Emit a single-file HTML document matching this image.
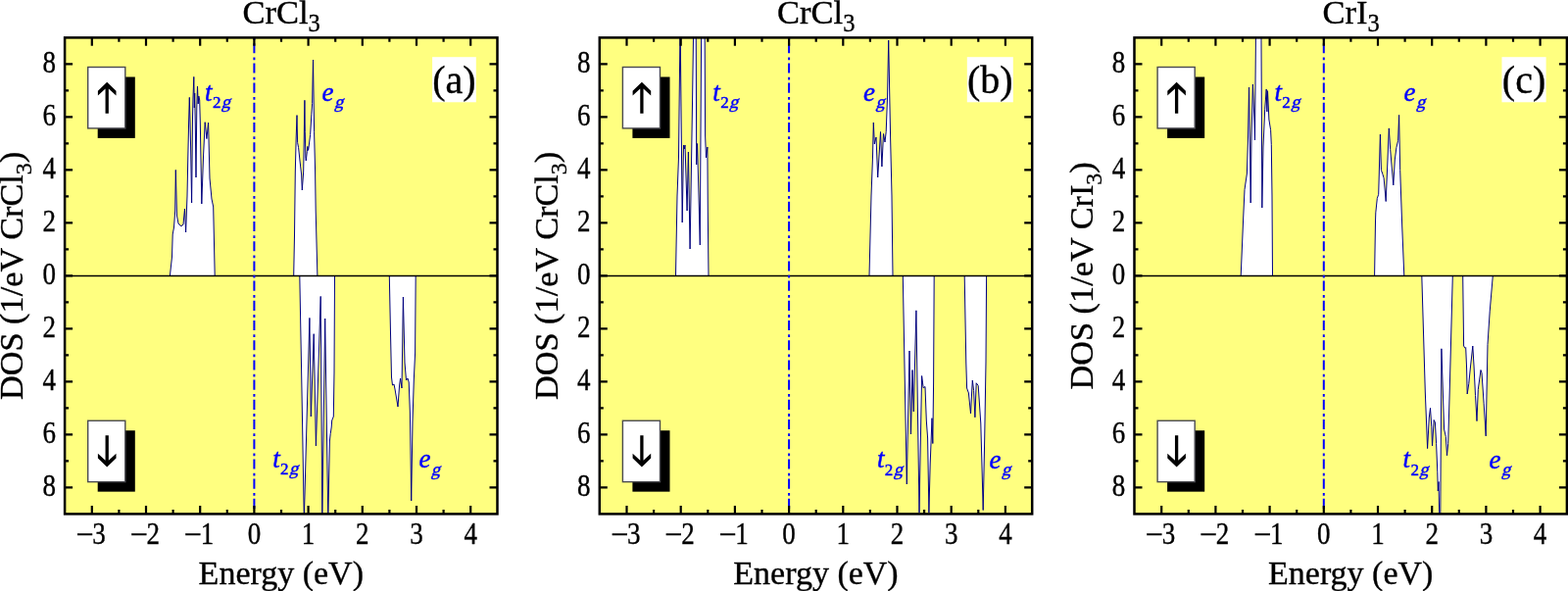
<!DOCTYPE html>
<html><head><meta charset="utf-8"><title>DOS of CrCl3 and CrI3</title>
<style>
html,body{margin:0;padding:0;background:#fff;}
body{width:1600px;height:603px;overflow:hidden;}
svg{display:block;}
text{font-family:"Liberation Serif","DejaVu Serif",serif;}
.k{stroke:#000;stroke-width:0.35px;}
</style></head><body>
<svg width="1600" height="603" viewBox="0 0 1600 603">

<defs><clipPath id="clip0"><rect x="66.1" y="38.4" width="441.4" height="486"/></clipPath></defs>
<g>
<rect x="66.1" y="38.4" width="441.4" height="486" fill="#ffff80"/>
<g clip-path="url(#clip0)">
<polygon points="173.4,281.4 175.5,262 176.2,239 177.5,232 178.7,215 179.3,173.4 180.5,220 182,228 185,231 187,229 188.5,213 189.6,237 191,200 191.8,160 192.6,125 193.3,99.4 194,125 194.6,150 195.6,207 196.5,120 197,100 197.8,78.4 198.3,110 198.7,95 199.3,128 200,181 200.8,110 201.5,88 202.2,106 202.8,98 203.7,102 204.3,125 205.8,208 207.5,160 209.2,124.7 210.9,141.6 212.6,125.2 214,182 216,203 217.7,211 219.2,281.4" fill="#fff"/>
<polygon points="299.7,281.4 300.5,240 301.3,175 302.2,140 303,117.6 303.6,145.4 304.6,150.7 306,164 307.6,178 308.3,194 309.7,175 310.9,102.3 311.3,134.8 311.9,161.3 312.3,164 313.3,154.7 313.9,149.4 314.6,153.4 315.3,148 316.6,137.5 317.9,116.2 318.6,105.6 319.5,61 320.6,134.8 321.6,175 322.2,215 323.9,281.4" fill="#fff"/>
<polygon points="305.8,281.4 308,400 310.3,530 313,430 315.9,324.4 317.3,425 320.2,340.7 322.4,455 327.2,302.4 328.8,530 331.7,325 334.8,530 336.4,450 337.2,442.7 338.2,436 338.7,429 340.3,425 341,380 341.5,281.4" fill="#fff"/>
<polygon points="397.3,281.4 398.5,340 399.5,385 400.5,393 402,392 403,397 404.2,404 406,415 407.6,393 408.6,386 410,396 411.4,303 413,370 414.5,388 416,386 417.2,390 418.4,422 419.7,511 421,430 422.3,388 423.6,360 424.2,281.4" fill="#fff"/>
<polyline points="173.4,281.4 175.5,262 176.2,239 177.5,232 178.7,215 179.3,173.4 180.5,220 182,228 185,231 187,229 188.5,213 189.6,237 191,200 191.8,160 192.6,125 193.3,99.4 194,125 194.6,150 195.6,207 196.5,120 197,100 197.8,78.4 198.3,110 198.7,95 199.3,128 200,181 200.8,110 201.5,88 202.2,106 202.8,98 203.7,102 204.3,125 205.8,208 207.5,160 209.2,124.7 210.9,141.6 212.6,125.2 214,182 216,203 217.7,211 219.2,281.4" fill="none" stroke="#000080" stroke-width="1.0" stroke-linejoin="miter" stroke-miterlimit="4"/>
<polyline points="299.7,281.4 300.5,240 301.3,175 302.2,140 303,117.6 303.6,145.4 304.6,150.7 306,164 307.6,178 308.3,194 309.7,175 310.9,102.3 311.3,134.8 311.9,161.3 312.3,164 313.3,154.7 313.9,149.4 314.6,153.4 315.3,148 316.6,137.5 317.9,116.2 318.6,105.6 319.5,61 320.6,134.8 321.6,175 322.2,215 323.9,281.4" fill="none" stroke="#000080" stroke-width="1.0" stroke-linejoin="miter" stroke-miterlimit="4"/>
<polyline points="305.8,281.4 308,400 310.3,530 313,430 315.9,324.4 317.3,425 320.2,340.7 322.4,455 327.2,302.4 328.8,530 331.7,325 334.8,530 336.4,450 337.2,442.7 338.2,436 338.7,429 340.3,425 341,380 341.5,281.4" fill="none" stroke="#000080" stroke-width="1.0" stroke-linejoin="miter" stroke-miterlimit="4"/>
<polyline points="397.3,281.4 398.5,340 399.5,385 400.5,393 402,392 403,397 404.2,404 406,415 407.6,393 408.6,386 410,396 411.4,303 413,370 414.5,388 416,386 417.2,390 418.4,422 419.7,511 421,430 422.3,388 423.6,360 424.2,281.4" fill="none" stroke="#000080" stroke-width="1.0" stroke-linejoin="miter" stroke-miterlimit="4"/>
</g>
<line x1="66.1" y1="281.4" x2="507.5" y2="281.4" stroke="#000" stroke-width="1.5"/>
<line x1="259.4" y1="38.4" x2="259.4" y2="524.4" stroke="#0000ff" stroke-width="2" stroke-dasharray="10.1 4.2 2.8 3.1" stroke-dashoffset="14.4"/>
<path d="M93.8 524.4V516.1M93.8 38.4V46.7M121.4 524.4V520M121.4 38.4V42.8M149 524.4V516.1M149 38.4V46.7M176.6 524.4V520M176.6 38.4V42.8M204.2 524.4V516.1M204.2 38.4V46.7M231.8 524.4V520M231.8 38.4V42.8M259.4 524.4V516.1M259.4 38.4V46.7M287 524.4V520M287 38.4V42.8M314.6 524.4V516.1M314.6 38.4V46.7M342.2 524.4V520M342.2 38.4V42.8M369.8 524.4V516.1M369.8 38.4V46.7M397.4 524.4V520M397.4 38.4V42.8M425 524.4V516.1M425 38.4V46.7M452.6 524.4V520M452.6 38.4V42.8M480.2 524.4V516.1M480.2 38.4V46.7M66.1 497.4H74.1M507.5 497.4H499.5M66.1 470.4H70.1M507.5 470.4H503.5M66.1 443.4H74.1M507.5 443.4H499.5M66.1 416.4H70.1M507.5 416.4H503.5M66.1 389.4H74.1M507.5 389.4H499.5M66.1 362.4H70.1M507.5 362.4H503.5M66.1 335.4H74.1M507.5 335.4H499.5M66.1 308.4H70.1M507.5 308.4H503.5M66.1 281.4H74.1M507.5 281.4H499.5M66.1 254.4H70.1M507.5 254.4H503.5M66.1 227.4H74.1M507.5 227.4H499.5M66.1 200.4H70.1M507.5 200.4H503.5M66.1 173.4H74.1M507.5 173.4H499.5M66.1 146.4H70.1M507.5 146.4H503.5M66.1 119.4H74.1M507.5 119.4H499.5M66.1 92.4H70.1M507.5 92.4H503.5M66.1 65.4H74.1M507.5 65.4H499.5" stroke="#000" stroke-width="2.2" fill="none"/>
<rect x="66.1" y="38.4" width="441.4" height="486" fill="none" stroke="#000" stroke-width="2.5"/>
<rect x="99.7" y="78.5" width="38.1" height="62.4" fill="#000"/>
<rect x="89.7" y="68.5" width="38.1" height="62.4" fill="#fff" stroke="#4a4a50" stroke-width="1.4"/>
<polygon points="109.2,83.7 118.5,92.7 118.5,97.4 110.85,90.5 110.85,115.8 107.55,115.8 107.55,90.5 99.9,97.4 99.9,92.7" fill="#000"/>
<rect x="99.7" y="439.25" width="38.1" height="62.4" fill="#000"/>
<rect x="89.7" y="429.25" width="38.1" height="62.4" fill="#fff" stroke="#4a4a50" stroke-width="1.4"/>
<polygon points="109.2,476.45 118.5,467.45 118.5,462.75 110.85,469.65 110.85,444.35 107.55,444.35 107.55,469.65 99.9,462.75 99.9,467.45" fill="#000"/>
<rect x="441.1" y="58.2" width="44.7" height="46.1" fill="#fff"/>
<text class="k" x="463.45" y="94.6" font-size="40" text-anchor="middle">(a)</text>
<text class="k" transform="translate(94.25,554.8) scale(0.9,1.03)" font-size="30">3</text>
<text class="k" transform="translate(95.8,554.8) scale(1.07,1)" font-size="30" text-anchor="end">−</text>
<text class="k" transform="translate(149.45,554.8) scale(0.9,1.03)" font-size="30">2</text>
<text class="k" transform="translate(151,554.8) scale(1.07,1)" font-size="30" text-anchor="end">−</text>
<text class="k" transform="translate(204.65,554.8) scale(0.9,1.03)" font-size="30">1</text>
<text class="k" transform="translate(206.2,554.8) scale(1.07,1)" font-size="30" text-anchor="end">−</text>
<text class="k" transform="translate(259.4,554.8) scale(0.9,1.03)" font-size="30" text-anchor="middle">0</text>
<text class="k" transform="translate(314.6,554.8) scale(0.9,1.03)" font-size="30" text-anchor="middle">1</text>
<text class="k" transform="translate(369.8,554.8) scale(0.9,1.03)" font-size="30" text-anchor="middle">2</text>
<text class="k" transform="translate(425,554.8) scale(0.9,1.03)" font-size="30" text-anchor="middle">3</text>
<text class="k" transform="translate(480.2,554.8) scale(0.9,1.03)" font-size="30" text-anchor="middle">4</text>
<text class="k" transform="translate(56.9,506.1) scale(0.9,1.03)" font-size="30" text-anchor="end">8</text>
<text class="k" transform="translate(56.9,452.1) scale(0.9,1.03)" font-size="30" text-anchor="end">6</text>
<text class="k" transform="translate(56.9,398.1) scale(0.9,1.03)" font-size="30" text-anchor="end">4</text>
<text class="k" transform="translate(56.9,344.1) scale(0.9,1.03)" font-size="30" text-anchor="end">2</text>
<text class="k" transform="translate(56.9,290.1) scale(0.9,1.03)" font-size="30" text-anchor="end">0</text>
<text class="k" transform="translate(56.9,236.1) scale(0.9,1.03)" font-size="30" text-anchor="end">2</text>
<text class="k" transform="translate(56.9,182.1) scale(0.9,1.03)" font-size="30" text-anchor="end">4</text>
<text class="k" transform="translate(56.9,128.1) scale(0.9,1.03)" font-size="30" text-anchor="end">6</text>
<text class="k" transform="translate(56.9,74.1) scale(0.9,1.03)" font-size="30" text-anchor="end">8</text>
<text class="k" x="286.8" y="595.6" font-size="34" text-anchor="middle">Energy (eV)</text>
<text class="k" transform="translate(23.1,281.4) rotate(-90)" font-size="34.3" text-anchor="middle">DOS (1/eV CrCl<tspan font-size="24" dy="9.3">3</tspan><tspan dy="-9.3">)</tspan></text>
<text class="k" x="287.1" y="24" font-size="34.5" text-anchor="middle">CrCl<tspan font-size="24.5" dy="8.3">3</tspan></text>
<text x="209" y="102.5" fill="#0000ff" stroke="#0000ff" stroke-width="0.45" font-size="27"><tspan font-style="italic">t</tspan><tspan font-size="17" dy="7.3" dx="0.4">2</tspan></text><text transform="translate(225.8,109.8) skewX(-14)" fill="#0000ff" stroke="#0000ff" stroke-width="0.45" font-size="18.5">g</text>
<text x="328.5" y="102.6" fill="#0000ff" stroke="#0000ff" stroke-width="0.45" font-size="27"><tspan font-style="italic">e</tspan></text><text transform="translate(340.88,109.9) skewX(-14)" fill="#0000ff" stroke="#0000ff" stroke-width="0.45" font-size="18.5">g</text>
<text x="278.2" y="476.6" fill="#0000ff" stroke="#0000ff" stroke-width="0.45" font-size="27"><tspan font-style="italic">t</tspan><tspan font-size="17" dy="7.3" dx="0.4">2</tspan></text><text transform="translate(295,483.9) skewX(-14)" fill="#0000ff" stroke="#0000ff" stroke-width="0.45" font-size="18.5">g</text>
<text x="427.4" y="477.3" fill="#0000ff" stroke="#0000ff" stroke-width="0.45" font-size="27"><tspan font-style="italic">e</tspan></text><text transform="translate(439.78,484.6) skewX(-14)" fill="#0000ff" stroke="#0000ff" stroke-width="0.45" font-size="18.5">g</text>
</g>
<defs><clipPath id="clip1"><rect x="611.8" y="38.4" width="441.4" height="486"/></clipPath></defs>
<g>
<rect x="611.8" y="38.4" width="441.4" height="486" fill="#ffff80"/>
<g clip-path="url(#clip1)">
<polygon points="689.5,281.4 691,200 692.5,160 694.1,20 695.5,160 696.2,227 697.5,148 698.3,152 699,148 701.1,215 702.4,155 704.1,254 706.6,100 707.8,20 710.2,20 710.7,168 711.6,146.5 714.3,250 715.7,20 719.1,20 719.6,138 720.5,161 721.9,150 722.3,215 723,281.4" fill="#fff"/>
<polygon points="887,281.4 889,200 890.5,160 891.3,125 892.3,147 894,140 895.7,181 897.9,145 898.5,134.5 899.9,170 901.5,136.5 903,145 904.2,134.5 905.5,100 906.7,41 908.6,140 910,200 911,281.4" fill="#fff"/>
<polygon points="921.3,281.4 923.3,390 925.3,494 926.5,430 928,358 929.5,443 931,377.5 932.3,420 934.9,316.8 938,523 940.6,383.5 942.2,395.8 944,394.5 945.3,429 946.6,447 947.9,523 949.2,473 951,426.7 951.8,452.5 952.6,390 953.2,281.4" fill="#fff"/>
<polygon points="984.2,281.4 985.8,370 986.6,396 988.4,401 990.5,422 992.3,388 993.6,398.5 994.9,425.8 996.2,390.8 998.2,393.4 1000.8,432 1003.2,520.5 1004.7,448 1006,370 1006.6,281.4" fill="#fff"/>
<polyline points="689.5,281.4 691,200 692.5,160 694.1,20 695.5,160 696.2,227 697.5,148 698.3,152 699,148 701.1,215 702.4,155 704.1,254 706.6,100 707.8,20 710.2,20 710.7,168 711.6,146.5 714.3,250 715.7,20 719.1,20 719.6,138 720.5,161 721.9,150 722.3,215 723,281.4" fill="none" stroke="#000080" stroke-width="1.0" stroke-linejoin="miter" stroke-miterlimit="4"/>
<polyline points="887,281.4 889,200 890.5,160 891.3,125 892.3,147 894,140 895.7,181 897.9,145 898.5,134.5 899.9,170 901.5,136.5 903,145 904.2,134.5 905.5,100 906.7,41 908.6,140 910,200 911,281.4" fill="none" stroke="#000080" stroke-width="1.0" stroke-linejoin="miter" stroke-miterlimit="4"/>
<polyline points="921.3,281.4 923.3,390 925.3,494 926.5,430 928,358 929.5,443 931,377.5 932.3,420 934.9,316.8 938,523 940.6,383.5 942.2,395.8 944,394.5 945.3,429 946.6,447 947.9,523 949.2,473 951,426.7 951.8,452.5 952.6,390 953.2,281.4" fill="none" stroke="#000080" stroke-width="1.0" stroke-linejoin="miter" stroke-miterlimit="4"/>
<polyline points="984.2,281.4 985.8,370 986.6,396 988.4,401 990.5,422 992.3,388 993.6,398.5 994.9,425.8 996.2,390.8 998.2,393.4 1000.8,432 1003.2,520.5 1004.7,448 1006,370 1006.6,281.4" fill="none" stroke="#000080" stroke-width="1.0" stroke-linejoin="miter" stroke-miterlimit="4"/>
</g>
<line x1="611.8" y1="281.4" x2="1053.2" y2="281.4" stroke="#000" stroke-width="1.5"/>
<line x1="805.1" y1="38.4" x2="805.1" y2="524.4" stroke="#0000ff" stroke-width="2" stroke-dasharray="10.1 4.2 2.8 3.1" stroke-dashoffset="14.4"/>
<path d="M639.5 524.4V516.1M639.5 38.4V46.7M667.1 524.4V520M667.1 38.4V42.8M694.7 524.4V516.1M694.7 38.4V46.7M722.3 524.4V520M722.3 38.4V42.8M749.9 524.4V516.1M749.9 38.4V46.7M777.5 524.4V520M777.5 38.4V42.8M805.1 524.4V516.1M805.1 38.4V46.7M832.7 524.4V520M832.7 38.4V42.8M860.3 524.4V516.1M860.3 38.4V46.7M887.9 524.4V520M887.9 38.4V42.8M915.5 524.4V516.1M915.5 38.4V46.7M943.1 524.4V520M943.1 38.4V42.8M970.7 524.4V516.1M970.7 38.4V46.7M998.3 524.4V520M998.3 38.4V42.8M1025.9 524.4V516.1M1025.9 38.4V46.7M611.8 497.4H619.8M1053.2 497.4H1045.2M611.8 470.4H615.8M1053.2 470.4H1049.2M611.8 443.4H619.8M1053.2 443.4H1045.2M611.8 416.4H615.8M1053.2 416.4H1049.2M611.8 389.4H619.8M1053.2 389.4H1045.2M611.8 362.4H615.8M1053.2 362.4H1049.2M611.8 335.4H619.8M1053.2 335.4H1045.2M611.8 308.4H615.8M1053.2 308.4H1049.2M611.8 281.4H619.8M1053.2 281.4H1045.2M611.8 254.4H615.8M1053.2 254.4H1049.2M611.8 227.4H619.8M1053.2 227.4H1045.2M611.8 200.4H615.8M1053.2 200.4H1049.2M611.8 173.4H619.8M1053.2 173.4H1045.2M611.8 146.4H615.8M1053.2 146.4H1049.2M611.8 119.4H619.8M1053.2 119.4H1045.2M611.8 92.4H615.8M1053.2 92.4H1049.2M611.8 65.4H619.8M1053.2 65.4H1045.2" stroke="#000" stroke-width="2.2" fill="none"/>
<rect x="611.8" y="38.4" width="441.4" height="486" fill="none" stroke="#000" stroke-width="2.5"/>
<rect x="645.4" y="78.5" width="38.1" height="62.4" fill="#000"/>
<rect x="635.4" y="68.5" width="38.1" height="62.4" fill="#fff" stroke="#4a4a50" stroke-width="1.4"/>
<polygon points="654.9,83.7 664.2,92.7 664.2,97.4 656.55,90.5 656.55,115.8 653.25,115.8 653.25,90.5 645.6,97.4 645.6,92.7" fill="#000"/>
<rect x="645.4" y="439.25" width="38.1" height="62.4" fill="#000"/>
<rect x="635.4" y="429.25" width="38.1" height="62.4" fill="#fff" stroke="#4a4a50" stroke-width="1.4"/>
<polygon points="654.9,476.45 664.2,467.45 664.2,462.75 656.55,469.65 656.55,444.35 653.25,444.35 653.25,469.65 645.6,462.75 645.6,467.45" fill="#000"/>
<rect x="986.8" y="58.2" width="47" height="46.1" fill="#fff"/>
<text class="k" x="1010.3" y="94.6" font-size="40" text-anchor="middle">(b)</text>
<text class="k" transform="translate(639.95,554.8) scale(0.9,1.03)" font-size="30">3</text>
<text class="k" transform="translate(641.5,554.8) scale(1.07,1)" font-size="30" text-anchor="end">−</text>
<text class="k" transform="translate(695.15,554.8) scale(0.9,1.03)" font-size="30">2</text>
<text class="k" transform="translate(696.7,554.8) scale(1.07,1)" font-size="30" text-anchor="end">−</text>
<text class="k" transform="translate(750.35,554.8) scale(0.9,1.03)" font-size="30">1</text>
<text class="k" transform="translate(751.9,554.8) scale(1.07,1)" font-size="30" text-anchor="end">−</text>
<text class="k" transform="translate(805.1,554.8) scale(0.9,1.03)" font-size="30" text-anchor="middle">0</text>
<text class="k" transform="translate(860.3,554.8) scale(0.9,1.03)" font-size="30" text-anchor="middle">1</text>
<text class="k" transform="translate(915.5,554.8) scale(0.9,1.03)" font-size="30" text-anchor="middle">2</text>
<text class="k" transform="translate(970.7,554.8) scale(0.9,1.03)" font-size="30" text-anchor="middle">3</text>
<text class="k" transform="translate(1025.9,554.8) scale(0.9,1.03)" font-size="30" text-anchor="middle">4</text>
<text class="k" transform="translate(602.6,506.1) scale(0.9,1.03)" font-size="30" text-anchor="end">8</text>
<text class="k" transform="translate(602.6,452.1) scale(0.9,1.03)" font-size="30" text-anchor="end">6</text>
<text class="k" transform="translate(602.6,398.1) scale(0.9,1.03)" font-size="30" text-anchor="end">4</text>
<text class="k" transform="translate(602.6,344.1) scale(0.9,1.03)" font-size="30" text-anchor="end">2</text>
<text class="k" transform="translate(602.6,290.1) scale(0.9,1.03)" font-size="30" text-anchor="end">0</text>
<text class="k" transform="translate(602.6,236.1) scale(0.9,1.03)" font-size="30" text-anchor="end">2</text>
<text class="k" transform="translate(602.6,182.1) scale(0.9,1.03)" font-size="30" text-anchor="end">4</text>
<text class="k" transform="translate(602.6,128.1) scale(0.9,1.03)" font-size="30" text-anchor="end">6</text>
<text class="k" transform="translate(602.6,74.1) scale(0.9,1.03)" font-size="30" text-anchor="end">8</text>
<text class="k" x="832.5" y="595.6" font-size="34" text-anchor="middle">Energy (eV)</text>
<text class="k" transform="translate(568.8,281.4) rotate(-90)" font-size="34.3" text-anchor="middle">DOS (1/eV CrCl<tspan font-size="24" dy="9.3">3</tspan><tspan dy="-9.3">)</tspan></text>
<text class="k" x="832.8" y="24" font-size="34.5" text-anchor="middle">CrCl<tspan font-size="24.5" dy="8.3">3</tspan></text>
<text x="727.3" y="102.6" fill="#0000ff" stroke="#0000ff" stroke-width="0.45" font-size="27"><tspan font-style="italic">t</tspan><tspan font-size="17" dy="7.3" dx="0.4">2</tspan></text><text transform="translate(744.1,109.9) skewX(-14)" fill="#0000ff" stroke="#0000ff" stroke-width="0.45" font-size="18.5">g</text>
<text x="881.1" y="102.7" fill="#0000ff" stroke="#0000ff" stroke-width="0.45" font-size="27"><tspan font-style="italic">e</tspan></text><text transform="translate(893.48,110) skewX(-14)" fill="#0000ff" stroke="#0000ff" stroke-width="0.45" font-size="18.5">g</text>
<text x="894.9" y="477.2" fill="#0000ff" stroke="#0000ff" stroke-width="0.45" font-size="27"><tspan font-style="italic">t</tspan><tspan font-size="17" dy="7.3" dx="0.4">2</tspan></text><text transform="translate(911.7,484.5) skewX(-14)" fill="#0000ff" stroke="#0000ff" stroke-width="0.45" font-size="18.5">g</text>
<text x="1009.6" y="477.6" fill="#0000ff" stroke="#0000ff" stroke-width="0.45" font-size="27"><tspan font-style="italic">e</tspan></text><text transform="translate(1021.98,484.9) skewX(-14)" fill="#0000ff" stroke="#0000ff" stroke-width="0.45" font-size="18.5">g</text>
</g>
<defs><clipPath id="clip2"><rect x="1157.5" y="38.4" width="441.4" height="486"/></clipPath></defs>
<g>
<rect x="1157.5" y="38.4" width="441.4" height="486" fill="#ffff80"/>
<g clip-path="url(#clip2)">
<polygon points="1266.2,281.4 1268.7,222 1270,193.5 1272.4,177 1273.5,140 1274.5,89 1275.5,150 1276.2,207 1277,140 1278.4,86 1280,125 1280.5,142.8 1281.6,20 1286.9,20 1287.8,212 1289,150 1290.7,111.6 1292.2,91 1292.9,114 1293.5,92.7 1294.9,122 1296.6,132.6 1297.3,147.5 1298,200 1298.5,281.4" fill="#fff"/>
<polygon points="1402.6,281.4 1403.5,226 1403.8,216.9 1405.3,202.4 1406.7,198.3 1408.4,137.1 1409.4,173.4 1410.8,177.5 1412.1,181.7 1414.2,205.5 1417.3,130.9 1418.7,152.7 1421.8,188.9 1423.3,163 1424.9,150.6 1426.6,143.3 1427.6,117.4 1428.7,173.4 1430.7,230 1432.8,281.4" fill="#fff"/>
<polygon points="1450.8,281.4 1454.3,400 1456.6,457.6 1458.3,426 1459.5,416.4 1460.8,435.8 1461.5,455 1463.2,428.5 1464.4,431 1465.6,452.7 1466.8,481.8 1467.3,501 1468,491.5 1468.8,530 1469.8,530 1470.9,355.8 1471.7,380 1473.6,438 1475.3,445.5 1476.5,464.8 1477.7,452.7 1479.2,400 1482.3,281.4" fill="#fff"/>
<polygon points="1492.7,281.4 1493.6,353 1495.1,355.2 1495.7,354.6 1496.6,376 1497.2,402 1498.8,391.3 1500.3,376 1502.8,353 1504,373 1505.5,403.5 1507,429.6 1508.3,397.4 1511,377.5 1512,380.6 1514.1,411.2 1516.2,444.9 1518,351.5 1520.2,317.9 1523.3,281.4" fill="#fff"/>
<polyline points="1266.2,281.4 1268.7,222 1270,193.5 1272.4,177 1273.5,140 1274.5,89 1275.5,150 1276.2,207 1277,140 1278.4,86 1280,125 1280.5,142.8 1281.6,20 1286.9,20 1287.8,212 1289,150 1290.7,111.6 1292.2,91 1292.9,114 1293.5,92.7 1294.9,122 1296.6,132.6 1297.3,147.5 1298,200 1298.5,281.4" fill="none" stroke="#000080" stroke-width="1.0" stroke-linejoin="miter" stroke-miterlimit="4"/>
<polyline points="1402.6,281.4 1403.5,226 1403.8,216.9 1405.3,202.4 1406.7,198.3 1408.4,137.1 1409.4,173.4 1410.8,177.5 1412.1,181.7 1414.2,205.5 1417.3,130.9 1418.7,152.7 1421.8,188.9 1423.3,163 1424.9,150.6 1426.6,143.3 1427.6,117.4 1428.7,173.4 1430.7,230 1432.8,281.4" fill="none" stroke="#000080" stroke-width="1.0" stroke-linejoin="miter" stroke-miterlimit="4"/>
<polyline points="1450.8,281.4 1454.3,400 1456.6,457.6 1458.3,426 1459.5,416.4 1460.8,435.8 1461.5,455 1463.2,428.5 1464.4,431 1465.6,452.7 1466.8,481.8 1467.3,501 1468,491.5 1468.8,530 1469.8,530 1470.9,355.8 1471.7,380 1473.6,438 1475.3,445.5 1476.5,464.8 1477.7,452.7 1479.2,400 1482.3,281.4" fill="none" stroke="#000080" stroke-width="1.0" stroke-linejoin="miter" stroke-miterlimit="4"/>
<polyline points="1492.7,281.4 1493.6,353 1495.1,355.2 1495.7,354.6 1496.6,376 1497.2,402 1498.8,391.3 1500.3,376 1502.8,353 1504,373 1505.5,403.5 1507,429.6 1508.3,397.4 1511,377.5 1512,380.6 1514.1,411.2 1516.2,444.9 1518,351.5 1520.2,317.9 1523.3,281.4" fill="none" stroke="#000080" stroke-width="1.0" stroke-linejoin="miter" stroke-miterlimit="4"/>
</g>
<line x1="1157.5" y1="281.4" x2="1598.9" y2="281.4" stroke="#000" stroke-width="1.5"/>
<line x1="1350.8" y1="38.4" x2="1350.8" y2="524.4" stroke="#0000ff" stroke-width="2" stroke-dasharray="10.1 4.2 2.8 3.1" stroke-dashoffset="14.4"/>
<path d="M1185.2 524.4V516.1M1185.2 38.4V46.7M1212.8 524.4V520M1212.8 38.4V42.8M1240.4 524.4V516.1M1240.4 38.4V46.7M1268 524.4V520M1268 38.4V42.8M1295.6 524.4V516.1M1295.6 38.4V46.7M1323.2 524.4V520M1323.2 38.4V42.8M1350.8 524.4V516.1M1350.8 38.4V46.7M1378.4 524.4V520M1378.4 38.4V42.8M1406 524.4V516.1M1406 38.4V46.7M1433.6 524.4V520M1433.6 38.4V42.8M1461.2 524.4V516.1M1461.2 38.4V46.7M1488.8 524.4V520M1488.8 38.4V42.8M1516.4 524.4V516.1M1516.4 38.4V46.7M1544 524.4V520M1544 38.4V42.8M1571.6 524.4V516.1M1571.6 38.4V46.7M1157.5 497.4H1165.5M1598.9 497.4H1590.9M1157.5 470.4H1161.5M1598.9 470.4H1594.9M1157.5 443.4H1165.5M1598.9 443.4H1590.9M1157.5 416.4H1161.5M1598.9 416.4H1594.9M1157.5 389.4H1165.5M1598.9 389.4H1590.9M1157.5 362.4H1161.5M1598.9 362.4H1594.9M1157.5 335.4H1165.5M1598.9 335.4H1590.9M1157.5 308.4H1161.5M1598.9 308.4H1594.9M1157.5 281.4H1165.5M1598.9 281.4H1590.9M1157.5 254.4H1161.5M1598.9 254.4H1594.9M1157.5 227.4H1165.5M1598.9 227.4H1590.9M1157.5 200.4H1161.5M1598.9 200.4H1594.9M1157.5 173.4H1165.5M1598.9 173.4H1590.9M1157.5 146.4H1161.5M1598.9 146.4H1594.9M1157.5 119.4H1165.5M1598.9 119.4H1590.9M1157.5 92.4H1161.5M1598.9 92.4H1594.9M1157.5 65.4H1165.5M1598.9 65.4H1590.9" stroke="#000" stroke-width="2.2" fill="none"/>
<rect x="1157.5" y="38.4" width="441.4" height="486" fill="none" stroke="#000" stroke-width="2.5"/>
<rect x="1191.1" y="78.5" width="38.1" height="62.4" fill="#000"/>
<rect x="1181.1" y="68.5" width="38.1" height="62.4" fill="#fff" stroke="#4a4a50" stroke-width="1.4"/>
<polygon points="1200.6,83.7 1209.9,92.7 1209.9,97.4 1202.25,90.5 1202.25,115.8 1198.95,115.8 1198.95,90.5 1191.3,97.4 1191.3,92.7" fill="#000"/>
<rect x="1191.1" y="439.25" width="38.1" height="62.4" fill="#000"/>
<rect x="1181.1" y="429.25" width="38.1" height="62.4" fill="#fff" stroke="#4a4a50" stroke-width="1.4"/>
<polygon points="1200.6,476.45 1209.9,467.45 1209.9,462.75 1202.25,469.65 1202.25,444.35 1198.95,444.35 1198.95,469.65 1191.3,462.75 1191.3,467.45" fill="#000"/>
<rect x="1532.5" y="58.2" width="45.1" height="46.1" fill="#fff"/>
<text class="k" x="1555.05" y="94.6" font-size="40" text-anchor="middle">(c)</text>
<text class="k" transform="translate(1185.65,554.8) scale(0.9,1.03)" font-size="30">3</text>
<text class="k" transform="translate(1187.2,554.8) scale(1.07,1)" font-size="30" text-anchor="end">−</text>
<text class="k" transform="translate(1240.85,554.8) scale(0.9,1.03)" font-size="30">2</text>
<text class="k" transform="translate(1242.4,554.8) scale(1.07,1)" font-size="30" text-anchor="end">−</text>
<text class="k" transform="translate(1296.05,554.8) scale(0.9,1.03)" font-size="30">1</text>
<text class="k" transform="translate(1297.6,554.8) scale(1.07,1)" font-size="30" text-anchor="end">−</text>
<text class="k" transform="translate(1350.8,554.8) scale(0.9,1.03)" font-size="30" text-anchor="middle">0</text>
<text class="k" transform="translate(1406,554.8) scale(0.9,1.03)" font-size="30" text-anchor="middle">1</text>
<text class="k" transform="translate(1461.2,554.8) scale(0.9,1.03)" font-size="30" text-anchor="middle">2</text>
<text class="k" transform="translate(1516.4,554.8) scale(0.9,1.03)" font-size="30" text-anchor="middle">3</text>
<text class="k" transform="translate(1571.6,554.8) scale(0.9,1.03)" font-size="30" text-anchor="middle">4</text>
<text class="k" transform="translate(1148.3,506.1) scale(0.9,1.03)" font-size="30" text-anchor="end">8</text>
<text class="k" transform="translate(1148.3,452.1) scale(0.9,1.03)" font-size="30" text-anchor="end">6</text>
<text class="k" transform="translate(1148.3,398.1) scale(0.9,1.03)" font-size="30" text-anchor="end">4</text>
<text class="k" transform="translate(1148.3,344.1) scale(0.9,1.03)" font-size="30" text-anchor="end">2</text>
<text class="k" transform="translate(1148.3,290.1) scale(0.9,1.03)" font-size="30" text-anchor="end">0</text>
<text class="k" transform="translate(1148.3,236.1) scale(0.9,1.03)" font-size="30" text-anchor="end">2</text>
<text class="k" transform="translate(1148.3,182.1) scale(0.9,1.03)" font-size="30" text-anchor="end">4</text>
<text class="k" transform="translate(1148.3,128.1) scale(0.9,1.03)" font-size="30" text-anchor="end">6</text>
<text class="k" transform="translate(1148.3,74.1) scale(0.9,1.03)" font-size="30" text-anchor="end">8</text>
<text class="k" x="1378.2" y="595.6" font-size="34" text-anchor="middle">Energy (eV)</text>
<text class="k" transform="translate(1114.5,281.4) rotate(-90)" font-size="34.3" text-anchor="middle">DOS (1/eV CrI<tspan font-size="24" dy="9.3">3</tspan><tspan dy="-9.3">)</tspan></text>
<text class="k" x="1378.5" y="24" font-size="34.5" text-anchor="middle">CrI<tspan font-size="24.5" dy="8.3">3</tspan></text>
<text x="1300.4" y="102.6" fill="#0000ff" stroke="#0000ff" stroke-width="0.45" font-size="27"><tspan font-style="italic">t</tspan><tspan font-size="17" dy="7.3" dx="0.4">2</tspan></text><text transform="translate(1317.2,109.9) skewX(-14)" fill="#0000ff" stroke="#0000ff" stroke-width="0.45" font-size="18.5">g</text>
<text x="1432.5" y="102.7" fill="#0000ff" stroke="#0000ff" stroke-width="0.45" font-size="27"><tspan font-style="italic">e</tspan></text><text transform="translate(1444.88,110) skewX(-14)" fill="#0000ff" stroke="#0000ff" stroke-width="0.45" font-size="18.5">g</text>
<text x="1431.5" y="477.2" fill="#0000ff" stroke="#0000ff" stroke-width="0.45" font-size="27"><tspan font-style="italic">t</tspan><tspan font-size="17" dy="7.3" dx="0.4">2</tspan></text><text transform="translate(1448.3,484.5) skewX(-14)" fill="#0000ff" stroke="#0000ff" stroke-width="0.45" font-size="18.5">g</text>
<text x="1519.5" y="477.5" fill="#0000ff" stroke="#0000ff" stroke-width="0.45" font-size="27"><tspan font-style="italic">e</tspan></text><text transform="translate(1531.88,484.8) skewX(-14)" fill="#0000ff" stroke="#0000ff" stroke-width="0.45" font-size="18.5">g</text>
</g>
</svg>
</body></html>
